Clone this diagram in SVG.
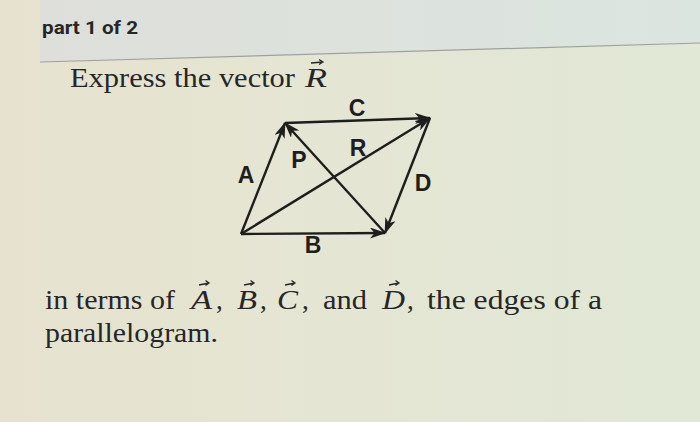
<svg xmlns="http://www.w3.org/2000/svg" width="700" height="422" viewBox="0 0 700 422">
<defs>
<linearGradient id="bg" x1="0" y1="0" x2="1" y2="0">
<stop offset="0" stop-color="#e6e2cf"/>
<stop offset="0.5" stop-color="#e4e6d3"/>
<stop offset="1" stop-color="#e1e8d6"/>
</linearGradient>
<linearGradient id="band" x1="0" y1="0" x2="1" y2="0">
<stop offset="0" stop-color="#dedfda"/>
<stop offset="1" stop-color="#dbe5df"/>
</linearGradient>
<marker id="ah" viewBox="0 0 16 11" markerWidth="16" markerHeight="11" refX="15" refY="5.5" orient="auto" markerUnits="userSpaceOnUse">
<path d="M0,0 L16,5.5 L0,11 L4.5,5.5 z" fill="#1e1e1e"/>
</marker>
</defs>
<style>
.serif{font-family:"Liberation Serif","DejaVu Serif",serif;font-size:27px;fill:#26262a}
.it{font-style:italic}
.lbl{font-family:"Liberation Sans",Arial,sans-serif;font-weight:bold;font-size:23px;fill:#1e1e1e;text-anchor:middle}
.edge{stroke:#1e1e1e;stroke-width:2.4;fill:none;marker-end:url(#ah)}
.va{stroke:#26262a;stroke-width:1.3;fill:none}
</style>
<rect x="0" y="0" width="700" height="422" fill="url(#bg)"/>
<polygon points="40,0 700,0 700,43 40,62" fill="url(#band)"/>
<line x1="40" y1="62" x2="700" y2="43" stroke="#9ea29e" stroke-width="1.2"/>
<text x="42" y="34" font-family="Roboto, 'Liberation Sans', Arial, sans-serif" font-weight="bold" font-size="18" fill="#262626" textLength="96" lengthAdjust="spacingAndGlyphs">part 1 of 2</text>

<g id="prompt">
<text class="serif" x="70" y="87" textLength="225" lengthAdjust="spacingAndGlyphs">Express the vector</text>
<text class="serif it" x="305" y="87" textLength="22" lengthAdjust="spacingAndGlyphs">R</text>
<path class="va" d="M311,63 L323,62 M319,59.5 L323,62 L319,64.5"/>
</g>

<g id="connectors">
<line class="edge" x1="241" y1="234" x2="285" y2="123"/>
<line class="edge" x1="385" y1="233" x2="285" y2="123"/>
<line class="edge" x1="285" y1="123" x2="430" y2="118"/>
<line class="edge" x1="241" y1="234" x2="430" y2="118"/>
<line class="edge" x1="241" y1="234" x2="385" y2="233"/>
<line class="edge" x1="430" y1="118" x2="385" y2="233"/>
</g>
<g id="label-C"><text class="lbl" x="357" y="116">C</text></g>
<g id="label-R"><text class="lbl" x="358" y="156">R</text></g>
<g id="label-P"><text class="lbl" x="299" y="168">P</text></g>
<g id="label-A"><text class="lbl" x="246" y="183">A</text></g>
<g id="label-D"><text class="lbl" x="423" y="191">D</text></g>
<g id="label-B"><text class="lbl" x="313" y="253">B</text></g>

<g id="statement">
<text class="serif" x="45" y="309" textLength="130" lengthAdjust="spacingAndGlyphs">in terms of</text>
<text class="serif it" x="191" y="309" textLength="21" lengthAdjust="spacingAndGlyphs">A</text>
<path class="va" d="M199,285 L209,283 M205.5,280.5 L209,283 L205.5,285.5"/>
<text class="serif" x="216" y="309">,</text>
<text class="serif it" x="237" y="309" textLength="20" lengthAdjust="spacingAndGlyphs">B</text>
<path class="va" d="M244,285 L254,283 M250.5,280.5 L254,283 L250.5,285.5"/>
<text class="serif" x="260" y="309">,</text>
<text class="serif it" x="277" y="309" textLength="21" lengthAdjust="spacingAndGlyphs">C</text>
<path class="va" d="M285,285 L295,283 M291.5,280.5 L295,283 L291.5,285.5"/>
<text class="serif" x="302" y="309">,</text>
<text class="serif" x="323" y="309" textLength="44" lengthAdjust="spacingAndGlyphs">and</text>
<text class="serif it" x="382" y="309" textLength="23" lengthAdjust="spacingAndGlyphs">D</text>
<path class="va" d="M389,285 L399,283 M395.5,280.5 L399,283 L395.5,285.5"/>
<text class="serif" x="407" y="309">,</text>
<text class="serif" x="427" y="309" textLength="175" lengthAdjust="spacingAndGlyphs">the edges of a</text>
<text class="serif" x="45" y="342" textLength="173" lengthAdjust="spacingAndGlyphs">parallelogram.</text>
</g>
</svg>
